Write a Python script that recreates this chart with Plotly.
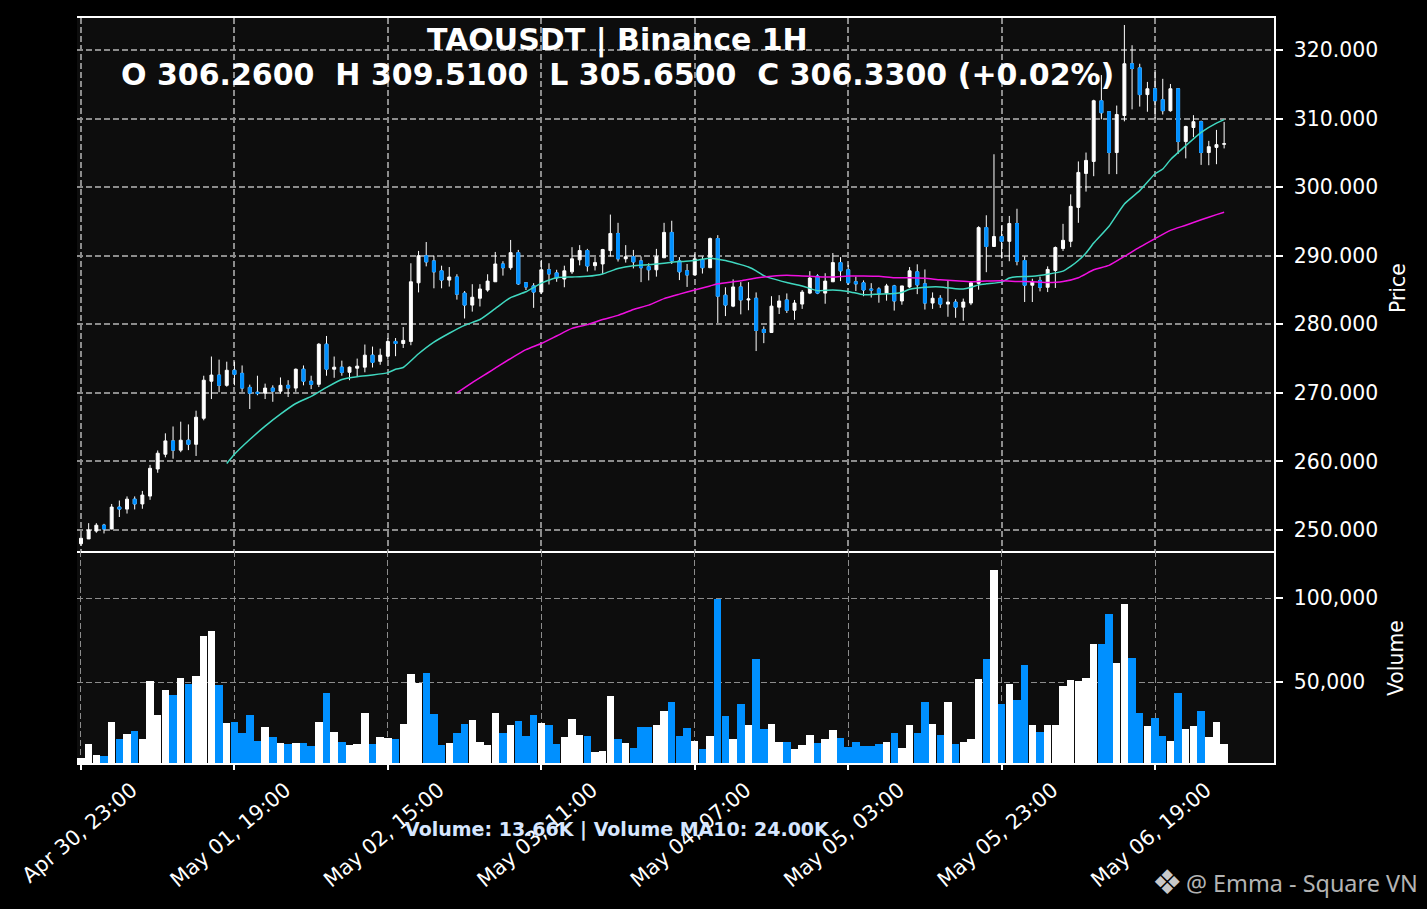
import plotly.graph_objects as go
from plotly.subplots import make_subplots

# values, one entry per hourly candle
opens = [
    248.0, 248.7, 249.85, 250.7, 250.15, 253.35, 253.05, 254.5, 253.8, 254.95,
    258.9, 261.05, 263.0, 261.65, 263.1, 262.5, 266.3, 271.7, 272.6, 271.1,
    273.3, 272.85, 270.8, 270.1, 269.95, 270.7, 270.25, 271.1, 270.7, 273.45,
    271.7, 271.25, 277.1, 273.45, 273.75, 273.0, 273.6, 273.75, 275.5, 274.6,
    275.35, 277.5, 277.2, 277.5, 286.05, 290.0, 289.25, 287.8, 286.45, 286.9,
    284.55, 282.8, 283.8, 285.0, 286.2, 288.8, 288.25, 290.45, 286.05, 285.6,
    284.7, 287.95, 287.5, 286.6, 287.65, 289.4, 290.75, 288.55, 288.8, 290.75,
    293.25, 289.55, 289.85, 289.25, 288.4, 287.95, 289.7, 293.4, 289.25, 287.8,
    287.2, 289.4, 288.25, 292.5, 284.25, 282.65, 285.45, 283.55, 283.8, 279.25,
    278.8, 282.5, 283.55, 282.05, 282.95, 284.55, 287.05, 284.55, 286.2, 289.0,
    287.95, 286.2, 286.05, 285.15, 285.15, 284.55, 285.6, 283.4, 285.45, 287.65,
    285.9, 283.1, 283.8, 282.95, 283.25, 282.5, 283.1, 285.97, 294.1, 291.35,
    292.8, 292.1, 294.7, 289.3, 285.7, 286.4, 285.4, 287.85, 291.05, 292.1,
    297.05, 302.0, 303.75, 312.6, 311.0, 305.05, 310.45, 318.0, 317.4, 313.5,
    314.35, 312.75, 311.15, 314.35, 306.65, 308.7, 309.55, 305.05, 305.8, 306.26,
]
highs = [
    249.0, 251.0, 251.0, 250.9, 253.8, 254.3, 254.9, 254.9, 255.7, 259.5,
    261.6, 264.1, 265.1, 265.8, 265.4, 267.4, 272.5, 275.3, 274.85, 274.55,
    274.55, 274.0, 271.2, 272.5, 271.35, 271.1, 272.25, 271.85, 273.55, 274.0,
    272.5, 277.25, 278.3, 275.3, 274.7, 273.85, 275.0, 277.05, 276.75, 276.45,
    278.0, 278.0, 279.6, 288.9, 290.7, 292.0, 290.0, 288.55, 288.35, 287.3,
    284.85, 285.85, 285.85, 287.3, 290.55, 289.2, 292.3, 290.85, 286.1, 286.0,
    289.4, 288.9, 287.95, 288.55, 291.25, 291.55, 291.0, 289.8, 291.0, 296.0,
    294.8, 291.55, 290.85, 289.9, 288.9, 291.0, 294.8, 295.1, 289.8, 288.8,
    290.3, 289.9, 292.65, 293.0, 285.4, 286.55, 286.15, 286.15, 284.65, 279.7,
    284.1, 284.25, 284.5, 283.55, 285.0, 287.75, 287.3, 287.45, 290.4, 289.8,
    288.65, 286.95, 286.4, 286.0, 285.4, 285.9, 285.75, 285.6, 288.35, 288.75,
    288.0, 284.65, 284.25, 286.4, 283.65, 283.75, 286.2, 294.3, 295.9, 304.8,
    294.4, 295.8, 296.85, 289.9, 286.65, 286.95, 288.45, 291.35, 294.65, 298.95,
    303.75, 305.05, 312.75, 316.35, 311.0, 311.9, 323.65, 320.7, 318.0, 315.35,
    317.1, 315.8, 315.05, 314.45, 308.95, 310.5, 309.7, 306.75, 308.35, 309.51,
]
lows = [
    247.7, 248.7, 249.6, 249.5, 250.1, 251.9, 252.4, 253.0, 253.1, 254.4,
    258.35, 260.6, 260.4, 261.35, 261.65, 260.8, 266.0, 269.1, 270.1, 270.9,
    271.1, 270.15, 267.65, 269.65, 269.1, 268.7, 269.9, 269.4, 270.15, 271.1,
    270.55, 270.85, 272.5, 272.2, 272.5, 271.85, 272.4, 273.0, 273.7, 274.1,
    274.85, 275.35, 276.55, 276.95, 284.65, 288.45, 285.25, 285.25, 285.5, 283.6,
    280.85, 281.85, 282.6, 284.75, 286.2, 287.1, 287.95, 285.75, 285.0, 282.4,
    284.4, 285.8, 286.2, 285.4, 287.35, 288.6, 287.7, 287.85, 287.35, 289.9,
    289.15, 289.0, 288.15, 286.15, 286.4, 286.95, 289.7, 288.8, 286.45, 285.45,
    287.2, 287.4, 288.25, 280.2, 281.2, 282.5, 281.45, 282.05, 276.1, 277.25,
    278.8, 281.5, 281.65, 280.65, 282.25, 284.4, 284.4, 283.0, 286.2, 286.3,
    285.75, 284.85, 284.1, 283.9, 283.15, 283.45, 282.0, 282.85, 285.3, 284.4,
    282.15, 282.25, 282.4, 281.1, 280.95, 280.5, 282.8, 285.05, 287.6, 291.35,
    289.6, 289.2, 288.6, 283.25, 283.25, 284.8, 284.7, 285.3, 290.7, 291.25,
    294.8, 299.35, 301.6, 309.9, 301.9, 301.9, 309.6, 311.35, 311.75, 311.0,
    310.0, 310.6, 311.0, 304.85, 304.2, 307.3, 303.25, 303.2, 303.35, 305.65,
]
closes = [
    248.8, 250.0, 250.7, 250.15, 253.35, 253.05, 254.5, 253.8, 255.1, 259.0,
    261.2, 263.0, 261.65, 263.1, 262.5, 266.45, 271.85, 272.6, 271.1, 273.3,
    272.7, 270.7, 269.95, 269.9, 270.7, 270.25, 271.1, 270.7, 273.45, 271.7,
    271.25, 277.1, 273.45, 273.75, 273.0, 273.75, 273.9, 275.5, 274.45, 275.5,
    277.5, 277.2, 277.65, 286.2, 290.0, 289.1, 287.65, 286.45, 286.9, 284.4,
    282.8, 283.95, 285.15, 286.3, 288.8, 288.25, 290.45, 285.9, 285.45, 284.7,
    287.95, 287.35, 286.75, 287.8, 289.55, 290.75, 288.5, 289.0, 290.9, 293.25,
    289.55, 289.85, 289.1, 288.25, 287.95, 289.85, 293.4, 289.25, 287.65, 287.2,
    289.55, 288.25, 292.5, 284.1, 282.8, 285.45, 283.55, 283.7, 279.1, 278.8,
    282.65, 283.4, 282.05, 283.1, 284.7, 286.75, 284.55, 286.3, 289.0, 287.8,
    286.05, 285.9, 285.0, 285.0, 284.55, 285.6, 283.4, 285.6, 287.8, 285.75,
    283.1, 283.8, 282.95, 283.25, 282.5, 283.25, 286.05, 294.1, 291.35, 292.8,
    292.1, 294.7, 289.2, 285.7, 286.25, 285.4, 288.0, 291.2, 292.25, 297.2,
    302.15, 303.9, 312.6, 310.85, 305.05, 310.6, 318.0, 317.3, 313.5, 314.35,
    312.6, 311.15, 314.35, 306.65, 308.85, 309.55, 305.05, 305.9, 306.2, 306.33,
]
volumes = [
    5160, 13100, 6550, 5960, 26600, 16100, 19050, 20800, 16100, 50600,
    30400, 45240, 42260, 52400, 48800, 53600, 77400, 80360, 48200, 25600,
    26600, 19650, 30400, 14900, 23200, 17300, 13700, 13100, 13700, 13700,
    11900, 26200, 43450, 20240, 14300, 12500, 13100, 31550, 13100, 17300,
    16700, 16100, 25000, 54800, 49400, 55400, 31000, 12500, 13700, 19650,
    25000, 27400, 14300, 12500, 31550, 19650, 24400, 26800, 17860, 30400,
    25600, 24400, 13100, 17300, 28000, 18460, 17860, 8340, 8930, 41670,
    16100, 13700, 10700, 23200, 23200, 24400, 32700, 38100, 17860, 22600,
    14900, 10100, 17860, 99400, 29760, 16100, 36900, 24400, 63700, 22000,
    25000, 14300, 14300, 10100, 12500, 18460, 13700, 16100, 21400, 16700,
    11300, 14300, 11900, 11900, 13100, 14300, 19650, 10700, 24400, 19650,
    38100, 25000, 18460, 38100, 13100, 14300, 16100, 51800, 63700, 116700,
    36900, 48800, 39300, 60100, 24400, 20240, 24400, 24400, 47600, 51200,
    50600, 52400, 72600, 72600, 90500, 61300, 96400, 64300, 31550, 23800,
    28600, 17860, 14900, 43450, 22000, 23800, 32700, 17300, 26200, 13660,
]

ma20_idx = [
    19, 20, 22, 24, 26, 28, 30, 32, 34, 36, 38, 40, 41, 42, 44, 46, 48, 50, 52, 54,
    56, 58, 60, 62, 64, 66, 68, 70, 72, 74, 76, 78, 80, 82, 83, 84, 86, 87, 88, 89,
    90, 92, 94, 96, 98, 100, 102, 104, 106, 107, 108, 110, 112, 114, 115, 116, 117, 118, 120, 121,
    122, 124, 126, 128, 129, 130, 131, 132, 134, 136, 138, 140, 141, 142, 144, 146, 148, 149,
]
ma20 = [
    259.7, 261.05, 263.2, 265.15, 266.9, 268.45, 269.5, 270.8, 271.95, 272.35,
    272.6, 272.95, 273.45, 273.7, 275.7, 277.4, 278.7, 279.85, 280.7, 282.3,
    283.9, 284.75, 286.0, 286.8, 286.9, 287.0, 287.35, 288.15, 288.55, 288.7,
    288.9, 289.15, 289.3, 289.65, 289.5, 289.3, 288.7, 288.35, 287.8, 287.1,
    286.7, 286.1, 285.6, 284.9, 285.0, 284.8, 284.3, 284.4, 284.5, 284.65,
    285.1, 285.4, 285.45, 285.2, 285.15, 285.4, 285.75, 285.9, 286.15, 286.75,
    286.95, 287.0, 287.3, 287.75, 288.45, 289.3, 290.4, 291.85, 294.3, 297.55,
    299.5, 301.95, 302.65, 304.0, 306.05, 308.0, 309.35, 309.85,
]
ma50_idx = [
    49, 51, 53, 54, 56, 58, 60, 62, 64, 66, 68, 70, 72, 74, 76, 78, 80, 82, 83, 86, 88,
    90, 92, 94, 96, 98, 100, 102, 104, 106, 108, 110, 112, 114, 116, 118, 120, 122, 124, 126, 128,
    130, 132, 134, 136, 138, 140, 142, 144, 146, 148, 149,
]
ma50 = [
    270.0, 271.5, 272.9, 273.6, 275.0, 276.3, 277.2, 278.3, 279.4, 279.95, 280.7,
    281.3, 282.15, 282.8, 283.75, 284.4, 285.0, 285.6, 285.9, 286.35, 286.75,
    287.0, 287.15, 287.05, 286.95, 286.9, 287.05, 287.05, 287.0, 286.8, 286.8,
    286.7, 286.5, 286.35, 286.2, 286.3, 286.35, 286.25, 286.2, 286.1, 286.25,
    286.8, 287.95, 288.6, 289.9, 291.25, 292.5, 293.7, 294.45, 295.25, 296.0, 296.35,
]

tick_idx = [0, 20, 40, 60, 80, 100, 120, 140]
tick_labels = [
    "Apr 30, 23:00", "May 01, 19:00", "May 02, 15:00", "May 03, 11:00",
    "May 04, 07:00", "May 05, 03:00", "May 05, 23:00", "May 06, 19:00",
]
price_ticks = [250, 260, 270, 280, 290, 300, 310, 320]
volume_ticks = [50000, 100000]

UP = "#ffffff"
DOWN = "#0090ff"
GRID = "#8c8c8c"
FONT = "DejaVu Sans"
TITLE_X = 0.4516

idx = list(range(len(closes)))
down = [i for i in idx if closes[i] < opens[i]]
bar_colors = [UP if closes[i] >= opens[i] else DOWN for i in idx]

fig = make_subplots(rows=2, cols=1, shared_xaxes=True, vertical_spacing=0, row_heights=[533, 212])

# all wicks are white, so the down bodies go on top as a second wickless trace
fig.add_trace(
    go.Candlestick(
        x=idx, open=opens, high=highs, low=lows, close=closes,
        increasing=dict(line=dict(color=UP, width=1), fillcolor=UP),
        decreasing=dict(line=dict(color=UP, width=1), fillcolor=UP),
        showlegend=False,
    ),
    row=1, col=1,
)
fig.add_trace(
    go.Candlestick(
        x=down,
        open=[opens[i] for i in down],
        high=[opens[i] for i in down],
        low=[closes[i] for i in down],
        close=[closes[i] for i in down],
        increasing=dict(line=dict(color=DOWN, width=1), fillcolor=DOWN),
        decreasing=dict(line=dict(color=DOWN, width=1), fillcolor=DOWN),
        showlegend=False,
    ),
    row=1, col=1,
)
fig.add_trace(
    go.Scatter(
        x=ma20_idx, y=ma20, mode="lines",
        line=dict(color="#40d8c0", width=1.5, shape="spline", smoothing=0.5), showlegend=False,
    ),
    row=1, col=1,
)
fig.add_trace(
    go.Scatter(
        x=ma50_idx, y=ma50, mode="lines",
        line=dict(color="#f010e0", width=1.5, shape="spline", smoothing=0.5), showlegend=False,
    ),
    row=1, col=1,
)
fig.add_trace(
    go.Bar(x=idx, y=volumes, marker=dict(color=bar_colors, line=dict(width=0)), width=0.97, showlegend=False),
    row=2, col=1,
)

x_style = dict(
    range=[-0.52, 155.5], tickmode="array", tickvals=tick_idx,
    showgrid=True, gridcolor=GRID, griddash="6px,3px",
    zeroline=False, showline=True, linecolor="#ffffff", linewidth=1.5,
    rangeslider=dict(visible=False),
)
y_style = dict(
    side="right", showgrid=True, gridcolor=GRID, griddash="6px,3px",
    zeroline=False, showline=True, linecolor="#ffffff", linewidth=1.5,
    ticks="outside", ticklen=7, tickwidth=1.5, tickcolor="#ffffff", ticklabelstandoff=7,
    tickfont=dict(family=FONT, size=20.4, color="#ffffff"),
)
fig.update_xaxes(row=1, col=1, ticks="", showticklabels=False, mirror=True, gridwidth=1.7, **x_style)
fig.update_xaxes(
    row=2, col=1, ticks="outside", ticklen=5, tickwidth=1.5, tickcolor="#ffffff", gridwidth=1.3,
    ticktext=tick_labels, tickangle=-40, ticklabelshift=51,
    tickfont=dict(family=FONT, size=20.8, color="#ffffff"), **x_style,
)
fig.update_yaxes(
    row=1, col=1, range=[246.94, 324.67], tickmode="array", tickvals=price_ticks,
    tickformat=",.3f", gridwidth=1.7, **y_style,
)
fig.update_yaxes(
    row=2, col=1, range=[2080, 127976], tickmode="array", tickvals=volume_ticks,
    tickformat=",d", gridwidth=1.3, **y_style,
)

fig.add_annotation(
    text="<b>TAOUSDT | Binance 1H</b>", xref="paper", yref="paper", x=TITLE_X, y=1.0,
    yshift=-2, xanchor="center", yanchor="top", showarrow=False,
    font=dict(family=FONT, size=30, color="#ffffff"),
)
fig.add_annotation(
    text="<b>O 306.2600  H 309.5100  L 305.6500  C 306.3300 (+0.02%)</b>", xref="paper", yref="paper",
    x=TITLE_X, y=1.0, yshift=-37, xanchor="center", yanchor="top", showarrow=False,
    font=dict(family=FONT, size=30, color="#ffffff"),
)
fig.add_annotation(
    text="<b>Volume: 13.66K | Volume MA10: 24.00K</b>", xref="paper", yref="paper", x=TITLE_X, y=0,
    yshift=-66, xanchor="center", yanchor="middle", showarrow=False,
    font=dict(family=FONT, size=19, color="#d6e6ff"),
)
fig.add_annotation(
    text="Price", textangle=-90, xref="paper", yref="paper", x=1, y=0.6376,
    xshift=124, xanchor="center", yanchor="middle", showarrow=False,
    font=dict(family=FONT, size=20.4, color="#ffffff"),
)
fig.add_annotation(
    text="Volume", textangle=-90, xref="paper", yref="paper", x=1, y=0.1409,
    xshift=122, xanchor="center", yanchor="middle", showarrow=False,
    font=dict(family=FONT, size=20.4, color="#ffffff"),
)
fig.add_annotation(
    text="❖", xref="paper", yref="paper", x=1, y=0,
    xshift=-107.5, yshift=-119, xanchor="center", yanchor="middle", showarrow=False,
    font=dict(family=FONT, size=34, color="#c8c8c8"),
)
fig.add_annotation(
    text="@ Emma - Square VN", xref="paper", yref="paper", x=1, y=0,
    xshift=146, yshift=-120, xanchor="right", yanchor="middle", showarrow=False,
    font=dict(family="Noto Sans", size=23.4, color="#b4b4b4"),
)

fig.update_layout(
    width=1427, height=909, autosize=False,
    margin=dict(l=77, r=153, t=18, b=146),
    paper_bgcolor="#000000", plot_bgcolor="#0d0d0d",
    boxgap=0.45, bargap=0, showlegend=False,
)
fig.write_html(
    "out.html",
    config={"displayModeBar": False},
    post_script="document.body.style.margin='0';document.body.style.background='#000';",
)
